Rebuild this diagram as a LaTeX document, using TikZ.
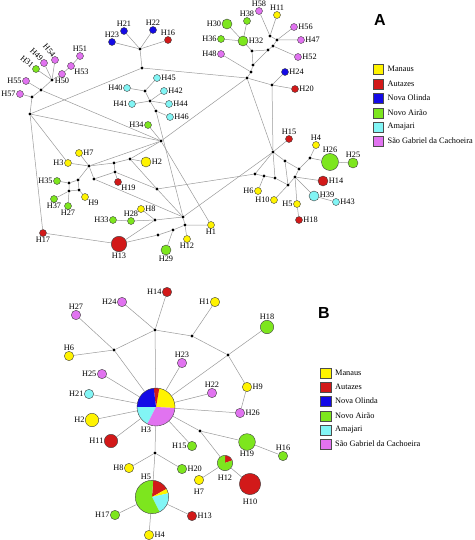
\documentclass[tikz,border=0pt]{standalone}
\usepackage{fontspec}
\setmainfont{Liberation Serif}
\newfontfamily\panelfont{Liberation Sans}
\definecolor{ylw}{RGB}{255,243,0}
\definecolor{rd}{RGB}{210,25,25}
\definecolor{blu}{RGB}{20,10,230}
\definecolor{grn}{RGB}{125,230,30}
\definecolor{cyn}{RGB}{130,245,245}
\definecolor{pnk}{RGB}{225,115,240}
\newcommand{\lbl}{\fontsize{8.3}{9}\selectfont}
\newcommand{\pieslice}[5]{\fill[#5] (#1) -- ++(#2:#4) arc[start angle=#2, end angle=#3, radius=#4] -- cycle;}
\begin{document}
\begin{tikzpicture}[x=1pt, y=-1pt,
  hap/.style={circle, draw=black!75, line width=0.4pt, inner sep=0pt, minimum size=7pt, label distance=0.5pt},
  hapb/.style={hap, minimum size=9.4pt, label distance=1.5pt},
  junc/.style={circle, fill=black, inner sep=0pt, minimum size=3.2pt},
  link/.style={draw=black!40, line width=0.5pt},
  sq/.style={draw=black!70, line width=0.4pt, inner sep=0pt, minimum width=10.5pt, minimum height=9.5pt},
  lgd/.style={font=\fontsize{8.3}{10}\selectfont, inner sep=0pt, label distance=4pt},
  panel/.style={font=\panelfont\bfseries\fontsize{16}{18}\selectfont},
  every label/.style={font=\lbl, inner sep=0.5pt}]
\useasboundingbox (0,0) rectangle (474,540);

\node[hap, fill=blu, label=above:H23] (a23) at (112,42) {};
\node[hap, fill=blu, label=above:H21] (a21) at (124,31) {};
\node[hap, fill=blu, label=above:H22] (a22) at (153,30) {};
\node[hap, fill=rd, label=above:H16] (a16) at (168,40) {};
\node[hap, fill=grn, label={[rotate=-40, anchor=east]140:H31}] (a31) at (36,69) {};
\node[hap, fill=pnk, label={[rotate=-45, anchor=east]120:H49}] (a49) at (44,63) {};
\node[hap, fill=pnk, label={[rotate=-50, anchor=east]100:H54}] (a54) at (55,60) {};
\node[hap, fill=pnk, label=above:H51] (a51) at (80,56) {};
\node[hap, fill=pnk, label=below right:H53] (a53) at (71,66) {};
\node[hap, fill=pnk, label=below:H50] (a50) at (62,74) {};
\node[hap, fill=pnk, label=left:H55] (a55) at (26,81) {};
\node[hap, fill=pnk, label=left:H57] (a57) at (20,94) {};
\node[hap, fill=cyn, label=right:H45] (a45) at (157,78) {};
\node[hap, fill=cyn, label=left:H40] (a40) at (127,88) {};
\node[hap, fill=cyn, label=right:H42] (a42) at (164,91) {};
\node[hap, fill=cyn, label=left:H41] (a41) at (132,104) {};
\node[hap, fill=cyn, label=right:H44] (a44) at (169,104) {};
\node[hap, fill=cyn, label=right:H46] (a46) at (170,117) {};
\node[hap, fill=grn, label=left:H34] (a34) at (148,125) {};
\node[hap, fill=pnk, label=above:H58] (a58) at (259,11) {};
\node[hap, fill=ylw, label=above:H11] (a11) at (277,15) {};
\node[hap, fill=grn, label=above:H38] (a38) at (247,21) {};
\node[hap, fill=grn, minimum size=10pt, label=left:H30] (a30) at (227,24) {};
\node[hap, fill=grn, label=left:H36] (a36) at (221,39) {};
\node[hap, fill=grn, minimum size=10pt, label=right:H32] (a32) at (243,41) {};
\node[hap, fill=pnk, label=right:H56] (a56) at (294,27) {};
\node[hap, fill=pnk, label=right:H47] (a47) at (301,40) {};
\node[hap, fill=pnk, label=right:H52] (a52) at (298,57) {};
\node[hap, fill=pnk, label=left:H48] (a48) at (221,54) {};
\node[hap, fill=blu, label=right:H24] (a24) at (285,72) {};
\node[hap, fill=rd, label=right:H20] (a20) at (295,89) {};
\node[hap, fill=rd, label=above:H15] (a15) at (289,139) {};
\node[hap, fill=ylw, label=above:H4] (a4) at (316,145) {};
\node[hap, fill=grn, minimum size=17pt, label=above:H26] (a26) at (330,162) {};
\node[hap, fill=grn, minimum size=10pt, label=above:H25] (a25) at (353,163) {};
\node[hap, fill=rd, minimum size=10pt, label=right:H14] (a14) at (323,181) {};
\node[hap, fill=ylw, label=left:H6] (a6) at (258,191) {};
\node[hap, fill=cyn, minimum size=10pt, label={[yshift=1.5pt]right:H39}] (a39) at (314,196) {};
\node[hap, fill=cyn, label=right:H43] (a43) at (336,202) {};
\node[hap, fill=ylw, label=left:H10] (a10) at (274,200) {};
\node[hap, fill=ylw, label=left:H5] (a5) at (297,204) {};
\node[hap, fill=rd, label=right:H18] (a18) at (299,220) {};
\node[hap, fill=ylw, label=below:H1] (a1) at (211,225) {};
\node[hap, fill=ylw, label=right:H7] (a7) at (79,153) {};
\node[hap, fill=ylw, label=left:H3] (a3) at (68,163) {};
\node[hap, fill=ylw, minimum size=10pt, label=right:H2] (a2) at (146,162) {};
\node[hap, fill=rd, label=below right:H19] (a19) at (118,182) {};
\node[hap, fill=grn, label=left:H35] (a35) at (57,181) {};
\node[hap, fill=grn, label=below:H37] (a37) at (54,199) {};
\node[hap, fill=grn, label=below:H27] (a27) at (68,206) {};
\node[hap, fill=ylw, label=below right:H9] (a9) at (85,197) {};
\node[hap, fill=grn, label=above:H28] (a28) at (131,221) {};
\node[hap, fill=ylw, label=right:H8] (a8) at (141,209) {};
\node[hap, fill=grn, label=left:H33] (a33) at (113,220) {};
\node[hap, fill=ylw, label=below:H12] (a12) at (187,239) {};
\node[hap, fill=grn, minimum size=10pt, label=below:H29] (a29) at (166,250) {};
\node[hap, fill=rd, minimum size=15.5pt, label=below:H13] (a13) at (119,244) {};
\node[hap, fill=rd, label=below:H17] (a17) at (43,233) {};

\node[junc] (ja1) at (140,49) {};
\node[junc] (ja2) at (142,68) {};
\node[junc] (ja3) at (52,80) {};
\node[junc] (ja4) at (41,90) {};
\node[junc] (ja5) at (32,97) {};
\node[junc] (ja6) at (30,114) {};
\node[junc] (ja7) at (145,91) {};
\node[junc] (ja8) at (150,101) {};
\node[junc] (ja9) at (156,111) {};
\node[junc] (ja10) at (161,141) {};
\node[junc] (ja11) at (270,36) {};
\node[junc] (ja12) at (277,40) {};
\node[junc] (ja13) at (273,46) {};
\node[junc] (ja14) at (268,50) {};
\node[junc] (ja15) at (252,51) {};
\node[junc] (ja16) at (253,65) {};
\node[junc] (ja17) at (251,72) {};
\node[junc] (ja18) at (247,78) {};
\node[junc] (ja19) at (272,85) {};
\node[junc] (ja20) at (273,152) {};
\node[junc] (ja21) at (285,161) {};
\node[junc] (ja22) at (310,158) {};
\node[junc] (ja23) at (299,169) {};
\node[junc] (ja24) at (255,174) {};
\node[junc] (ja25) at (264,176) {};
\node[junc] (ja26) at (275,178) {};
\node[junc] (ja27) at (295,177) {};
\node[junc] (ja28) at (288,185) {};
\node[junc] (ja29) at (89,166) {};
\node[junc] (ja30) at (114,163) {};
\node[junc] (ja31) at (130,159) {};
\node[junc] (ja32) at (115,172) {};
\node[junc] (ja33) at (94,179) {};
\node[junc] (ja34) at (157,189) {};
\node[junc] (ja35) at (69,183) {};
\node[junc] (ja36) at (78,180) {};
\node[junc] (ja37) at (69,191) {};
\node[junc] (ja38) at (79,190) {};
\node[junc] (ja39) at (155,220) {};
\node[junc] (ja40) at (183,217) {};
\node[junc] (ja41) at (185,225) {};
\node[junc] (ja42) at (173,230) {};
\node[junc] (ja43) at (158,235) {};

\draw[link] (a23) -- (ja1) -- (a16);
\draw[link] (a21) -- (ja1) -- (a22);
\draw[link] (ja1) -- (ja2) -- (ja6);
\draw[link] (ja2) -- (ja18);
\draw[link] (a31) -- (ja3) -- (a49);
\draw[link] (a54) -- (ja3) -- (a50) -- (a53) -- (a51);
\draw[link] (ja3) -- (ja4) -- (ja5) -- (ja6);
\draw[link] (a55) -- (ja4) -- (ja10);
\draw[link] (a57) -- (ja5);
\draw[link] (ja6) -- (ja10);
\draw[link] (ja6) -- (a3);
\draw[link] (ja6) -- (a17) -- (a13);
\draw[link] (a45) -- (ja7) -- (a40);
\draw[link] (ja7) -- (ja8) -- (ja9) -- (a46);
\draw[link] (a41) -- (ja8) -- (a42);
\draw[link] (ja8) -- (a44);
\draw[link] (ja9) -- (ja40);
\draw[link] (ja10) -- (a34);
\draw[link] (ja10) -- (a1);
\draw[link] (ja10) -- (ja18);
\draw[link] (ja10) -- (ja29);
\draw[link] (ja10) -- (ja31);
\draw[link] (a30) -- (a32) -- (a36);
\draw[link] (a38) -- (a32) -- (ja15) -- (ja14) -- (ja13) -- (ja12) -- (ja11);
\draw[link] (ja15) -- (ja16) -- (ja14);
\draw[link] (a58) -- (ja11) -- (a11);
\draw[link] (a56) -- (ja12) -- (a47);
\draw[link] (ja13) -- (a52);
\draw[link] (ja16) -- (ja17) -- (ja18) -- (ja19) -- (a20);
\draw[link] (a48) -- (ja17);
\draw[link] (ja19) -- (a24);
\draw[link] (ja18) -- (ja20) -- (ja19);
\draw[link] (ja20) -- (a15);
\draw[link] (ja20) -- (ja21) -- (ja23) -- (ja22) -- (a4);
\draw[link] (ja22) -- (a26) -- (a25);
\draw[link] (ja20) -- (ja26);
\draw[link] (ja20) -- (ja24) -- (ja25) -- (ja26) -- (ja28) -- (a10);
\draw[link] (ja25) -- (a6);
\draw[link] (ja21) -- (ja28) -- (ja27) -- (ja23);
\draw[link] (ja27) -- (a14);
\draw[link] (ja27) -- (a39) -- (a43);
\draw[link] (ja27) -- (a5) -- (a18);
\draw[link] (ja20) -- (ja40);
\draw[link] (ja24) -- (ja34);
\draw[link] (a3) -- (ja29) -- (a7);
\draw[link] (ja29) -- (ja30) -- (ja31) -- (a2);
\draw[link] (ja30) -- (ja32) -- (a19);
\draw[link] (ja29) -- (ja33) -- (ja32) -- (ja34) -- (ja40);
\draw[link] (ja31) -- (ja34);
\draw[link] (ja33) -- (ja40);
\draw[link] (ja29) -- (ja36) -- (ja35) -- (a35);
\draw[link] (ja35) -- (ja37) -- (a37);
\draw[link] (ja37) -- (a27);
\draw[link] (ja37) -- (ja38) -- (ja36);
\draw[link] (ja38) -- (a9);
\draw[link] (a33) -- (a28) -- (ja39) -- (a8);
\draw[link] (ja39) -- (ja40) -- (ja41) -- (a1);
\draw[link] (ja39) -- (a13) -- (ja43) -- (ja42) -- (ja41) -- (a12);
\draw[link] (ja42) -- (a29);

\node[panel] (pa) at (380,20) {A};
\node[sq, fill=ylw, label={[lgd]right:Manaus}] (la1) at (378,69) {};
\node[sq, fill=rd, label={[lgd]right:Autazes}] (la2) at (378,84) {};
\node[sq, fill=blu, label={[lgd]right:Nova Olinda}] (la3) at (378,98) {};
\node[sq, fill=grn, label={[lgd]right:Novo Airão}] (la4) at (378,113) {};
\node[sq, fill=cyn, label={[lgd]right:Amajari}] (la5) at (378,127) {};
\node[sq, fill=pnk, label={[lgd]right:São Gabriel da Cachoeira}] (la6) at (378,141) {};

\coordinate (c3) at (156,407);
\pieslice{c3}{3}{-80}{19}{ylw}
\pieslice{c3}{-80}{-97}{19}{rd}
\pieslice{c3}{-97}{-180}{19}{blu}
\pieslice{c3}{-180}{-243}{19}{cyn}
\pieslice{c3}{-243}{-357}{19}{pnk}
\coordinate (c5) at (152,497);
\pieslice{c5}{-29}{-86}{16.7}{rd}
\pieslice{c5}{-13}{-29}{16.7}{ylw}
\pieslice{c5}{63}{-13}{16.7}{cyn}
\pieslice{c5}{-86}{-297}{16.7}{grn}
\coordinate (c12) at (225,463);
\pieslice{c12}{-20}{-88}{7.7}{rd}
\pieslice{c12}{-88}{-380}{7.7}{grn}

\node[hap, minimum size=38pt, label={[xshift=-10pt]below:H3}] (b3) at (c3) {};
\node[hap, minimum size=33.4pt, label={[xshift=-6pt]above:H5}] (b5) at (c5) {};
\node[hapb, minimum size=15.4pt, label={[yshift=-3pt]below:H12}] (b12) at (c12) {};
\node[hapb, fill=rd, label=left:H14] (b14) at (167,292) {};
\node[hapb, fill=pnk, label=left:H24] (b24) at (122,302) {};
\node[hapb, fill=pnk, label=above:H27] (b27) at (76,315) {};
\node[hapb, fill=ylw, label=left:H1] (b1) at (215,302) {};
\node[hapb, fill=ylw, label=above:H6] (b6) at (69,356) {};
\node[hapb, fill=pnk, label=above:H23] (b23) at (182,363) {};
\node[hapb, fill=pnk, label=left:H25] (b25) at (102,374) {};
\node[hapb, fill=pnk, label=above:H22] (b22) at (212,393) {};
\node[hapb, fill=cyn, label=left:H21] (b21) at (89,394) {};
\node[hapb, fill=grn, minimum size=13.4pt, label=above:H18] (b18) at (267,327) {};
\node[hapb, fill=ylw, label=right:H9] (b9) at (247,387) {};
\node[hapb, fill=pnk, label=right:H26] (b26) at (240,413) {};
\node[hapb, fill=ylw, minimum size=13.4pt, label=left:H2] (b2) at (92,420) {};
\node[hapb, fill=rd, minimum size=13.4pt, label=left:H11] (b11) at (111,441) {};
\node[hapb, fill=grn, label=left:H15] (b15) at (192,446) {};
\node[hapb, fill=ylw, label=left:H8] (b8) at (129,468) {};
\node[hapb, fill=grn, label=right:H20] (b20) at (182,469) {};
\node[hapb, fill=grn, label=left:H17] (b17) at (115,515) {};
\node[hapb, fill=rd, label=right:H13] (b13) at (192,516) {};
\node[hapb, fill=ylw, label=right:H4] (b4) at (149,535) {};
\node[hapb, fill=ylw, label={[yshift=-3pt]below:H7}] (b7) at (199,480) {};
\node[hapb, fill=grn, minimum size=16.7pt, label=below:H19] (b19) at (247,442) {};
\node[hapb, fill=grn, label=above:H16] (b16) at (283,456) {};
\node[hapb, fill=rd, minimum size=21.3pt, label={[yshift=-3pt]below:H10}] (b10) at (250,484) {};

\node[junc] (jb1) at (155,330) {};
\node[junc] (jb2) at (192,336) {};
\node[junc] (jb3) at (114,350) {};
\node[junc] (jb4) at (228,355) {};
\node[junc] (jb5) at (155,453) {};
\node[junc] (jb6) at (200,431) {};

\draw[link] (b3) -- (jb1) -- (b14);
\draw[link] (b24) -- (jb1) -- (jb2) -- (b1);
\draw[link] (jb1) -- (jb3) -- (b27);
\draw[link] (b6) -- (jb3) -- (b3);
\draw[link] (jb2) -- (jb4) -- (b18);
\draw[link] (b3) -- (jb4) -- (b9) -- (b26);
\draw[link] (b3) -- (b23);
\draw[link] (b3) -- (b22);
\draw[link] (b3) -- (b25);
\draw[link] (b3) -- (b21);
\draw[link] (b3) -- (b2);
\draw[link] (b3) -- (b11);
\draw[link] (b3) -- (b26);
\draw[link] (b3) -- (b15);
\draw[link] (b3) -- (jb6) -- (b19) -- (b16);
\draw[link] (jb6) -- (b12) -- (b10);
\draw[link] (b12) -- (b7);
\draw[link] (b3) -- (jb5) -- (b5);
\draw[link] (b8) -- (jb5) -- (b20);
\draw[link] (b17) -- (b5) -- (b13);
\draw[link] (b5) -- (b4);

\node[panel] (pb) at (324,313) {B};
\node[sq, fill=ylw, label={[lgd]right:Manaus}] (lb1) at (325.5,373) {};
\node[sq, fill=rd, label={[lgd]right:Autazes}] (lb2) at (325.5,387) {};
\node[sq, fill=blu, label={[lgd]right:Nova Olinda}] (lb3) at (325.5,401) {};
\node[sq, fill=grn, label={[lgd]right:Novo Airão}] (lb4) at (325.5,416) {};
\node[sq, fill=cyn, label={[lgd]right:Amajari}] (lb5) at (325.5,430) {};
\node[sq, fill=pnk, label={[lgd]right:São Gabriel da Cachoeira}] (lb6) at (325.5,444) {};
\end{tikzpicture}
\end{document}
